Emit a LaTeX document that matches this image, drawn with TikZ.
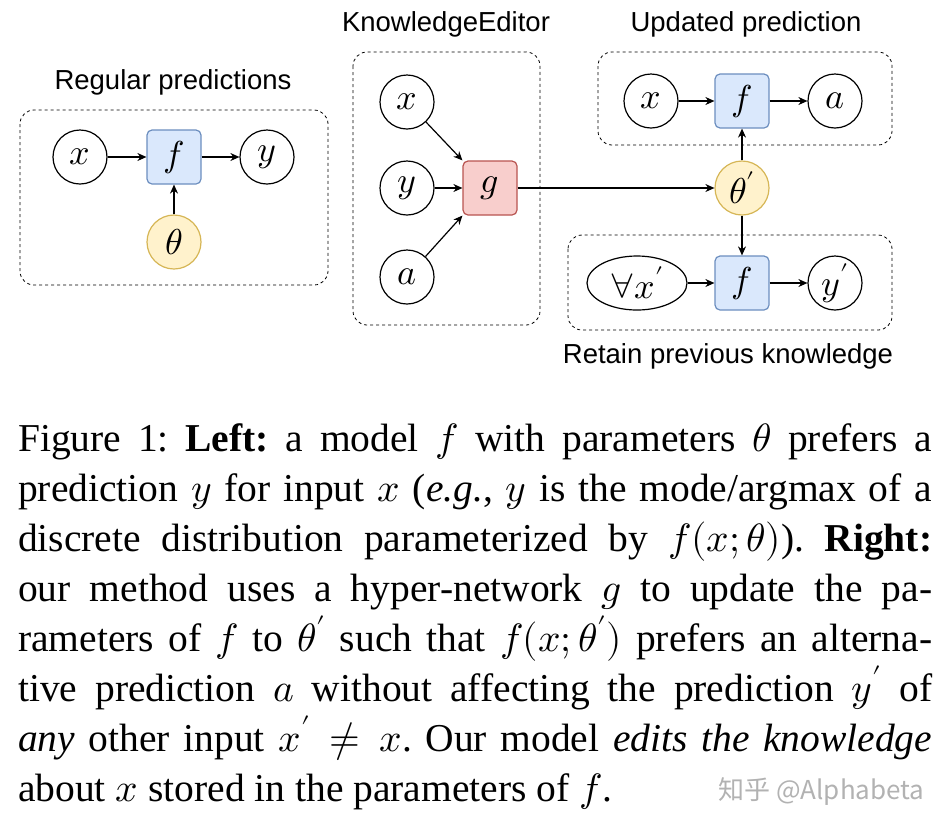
\documentclass[tikz,border=0pt]{standalone}
\usepackage{fontspec}
\usepackage{unicode-math}
\setmathfont{Latin Modern Math}
\setmainfont{Liberation Serif}
\setsansfont{Liberation Sans}
\newfontfamily\cjk{Noto Sans CJK SC}
\usetikzlibrary{shapes.geometric,arrows.meta}
\definecolor{bfill}{HTML}{DAE8FC}\definecolor{bdraw}{HTML}{6C8EBF}
\definecolor{rfill}{HTML}{F8CECC}\definecolor{rdraw}{HTML}{B85450}
\definecolor{yfill}{HTML}{FFF2CC}\definecolor{ydraw}{HTML}{D6B656}
\begin{document}
\frenchspacing
\begin{tikzpicture}[x=1pt,y=-1pt,
  var/.style={circle,draw,line width=1.2pt,minimum size=54pt,inner sep=0pt,font=\fontsize{36}{36}\selectfont},
  fbox/.style={rectangle,rounded corners=5pt,draw=bdraw,fill=bfill,line width=1.2pt,minimum size=54pt,inner sep=0pt,font=\fontsize{36}{36}\selectfont},
  gbox/.style={fbox,draw=rdraw,fill=rfill},
  par/.style={var,draw=ydraw,fill=yfill},
  grp/.style={draw,dashed,rounded corners=14pt,line width=0.8pt},
  ttl/.style={font=\sffamily\fontsize{27.5}{28}\selectfont},
  arr/.style={-{Stealth[length=9pt,width=8pt]},line width=1.2pt}]
\useasboundingbox (0,0) rectangle (950,831);
% left
\draw[grp] (20,110) rectangle (328,285);
\node[ttl] (t1) at (173,82) {Regular predictions};
\node[var] (x1) at (80,157) {$x$};
\node[fbox] (f1) at (174,157) {$f$};
\node[var] (y1) at (267,157) {$y$};
\node[par] (th) at (174,242) {$\theta$};
\draw[arr] (x1)--(f1); \draw[arr] (f1)--(y1); \draw[arr] (th)--(f1);
% middle
\draw[grp] (353,52) rectangle (540,325);
\node[ttl] (t2) at (446,24) {KnowledgeEditor};
\node[var] (x2) at (407,102) {$x$};
\node[var] (y2) at (407,188) {$y$};
\node[var] (a2) at (407,277) {$a$};
\node[gbox] (g) at (490,188) {$g$};
\draw[arr] (x2)--(g.north west); \draw[arr] (y2)--(g); \draw[arr] (a2)--(g.south west);
% top right
\draw[grp] (598,52) rectangle (892,145);
\node[ttl] (t3) at (746,24) {Updated prediction};
\node[var] (x3) at (651,101) {$x$};
\node[fbox] (f3) at (742,101) {$f$};
\node[var] (a3) at (835,101) {$a$};
\draw[arr] (x3)--(f3); \draw[arr] (f3)--(a3);
\node[par] (thp) at (742,188) {$\theta'$};
\draw[arr] (g)--(thp); \draw[arr] (thp)--(f3);
% bottom right
\draw[grp] (568,235) rectangle (892,330);
\node[ellipse,draw,line width=1.2pt,minimum width=100pt,minimum height=54pt,inner sep=0pt,font=\fontsize{36}{36}\selectfont] (x4) at (637,283) {$\forall x'$};
\node[fbox] (f4) at (742,283) {$f$};
\node[var] (y4) at (835,283) {$y'$};
\draw[arr] (x4)--(f4); \draw[arr] (f4)--(y4); \draw[arr] (thp)--(f4);
\node[ttl] (t4) at (728,356) {Retain previous knowledge};
% caption
\node[anchor=north west,text width=914pt,align=justify,inner sep=0pt,font=\fontsize{39.5}{50}\selectfont] (cap) at (18,423) {%
Figure 1: \textbf{Left:} a model $f$ with parameters $\theta$ prefers a\linebreak
prediction $y$ for input $x$ (\textit{e.g.}, $y$ is the mode/argmax of a\linebreak
discrete distribution parameterized by $f(x;\theta)$). \textbf{Right:}\linebreak
our method uses a hyper-network $g$ to update the pa-\linebreak rameters of $f$ to $\theta'$ such that $f(x;\theta')$ prefers an alterna-\linebreak tive prediction $a$ without affecting the prediction $y'$ of\linebreak
\textit{any} other input $x'\neq x$. Our model \textit{edits the knowledge}\linebreak
about $x$ stored in the parameters of $f$.};
\node[font=\cjk\fontsize{26}{26}\selectfont,text=gray!60,anchor=east] (wm) at (928,792) {知乎 @Alphabeta};
\end{tikzpicture}
\end{document}
